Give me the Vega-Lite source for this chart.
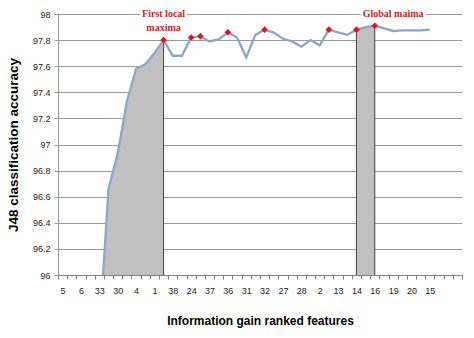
{
  "$schema": "https://vega.github.io/schema/vega-lite/v6.json",
  "width": 404,
  "height": 261,
  "autosize": "none",
  "padding": {"left": 58, "top": 14, "right": 12, "bottom": 63},
  "background": "white",
  "config": {"view": {"stroke": null}, "font": "Liberation Sans"},
  "data": {
    "values": [
      {"pos": 4, "acc": 95.55, "shade": 1},
      {"pos": 5, "acc": 96.66, "shade": 1},
      {"pos": 6, "acc": 96.93, "shade": 1},
      {"pos": 7, "acc": 97.33, "shade": 1},
      {"pos": 8, "acc": 97.58, "shade": 1},
      {"pos": 9, "acc": 97.615, "shade": 1},
      {"pos": 10, "acc": 97.7, "shade": 1},
      {"pos": 11, "acc": 97.8, "shade": 1, "peak": true, "edge": true},
      {"pos": 12, "acc": 97.68},
      {"pos": 13, "acc": 97.68},
      {"pos": 14, "acc": 97.82, "peak": true},
      {"pos": 15, "acc": 97.83, "peak": true},
      {"pos": 16, "acc": 97.79},
      {"pos": 17, "acc": 97.806},
      {"pos": 18, "acc": 97.86, "peak": true},
      {"pos": 19, "acc": 97.82},
      {"pos": 20, "acc": 97.668},
      {"pos": 21, "acc": 97.84},
      {"pos": 22, "acc": 97.88, "peak": true},
      {"pos": 23, "acc": 97.857},
      {"pos": 24, "acc": 97.81},
      {"pos": 25, "acc": 97.79},
      {"pos": 26, "acc": 97.75},
      {"pos": 27, "acc": 97.8},
      {"pos": 28, "acc": 97.76},
      {"pos": 29, "acc": 97.88, "peak": true},
      {"pos": 30, "acc": 97.86},
      {"pos": 31, "acc": 97.84},
      {"pos": 32, "acc": 97.88, "shade": 2, "peak": true, "edge": true},
      {"pos": 33, "acc": 97.9, "shade": 2},
      {"pos": 34, "acc": 97.91, "shade": 2, "peak": true, "edge": true},
      {"pos": 35, "acc": 97.89},
      {"pos": 36, "acc": 97.87},
      {"pos": 37, "acc": 97.875},
      {"pos": 38, "acc": 97.875},
      {"pos": 39, "acc": 97.875},
      {"pos": 40, "acc": 97.88}
    ]
  },
  "encoding": {
    "x": {
      "field": "pos",
      "type": "ordinal",
      "bandPosition": 0.5,
      "scale": {
        "type": "band",
        "domain": [0,1,2,3,4,5,6,7,8,9,10,11,12,13,14,15,16,17,18,19,20,21,22,23,24,25,26,27,28,29,30,31,32,33,34,35,36,37,38,39,40,41,42,43],
        "paddingInner": 0,
        "paddingOuter": 0
      },
      "axis": {
        "title": "Information gain ranked features",
        "titleFont": "Liberation Sans",
        "titleFontSize": 12,
        "titleFontWeight": "bold",
        "titleColor": "#000000",
        "titlePadding": 20,
        "labelExpr": "['5','','6','','33','','30','','4','','1','','38','','24','','37','','36','','31','','32','','27','','28','','2','','13','','14','','16','','19','','20','','15','','',''][datum.value]",
        "labelAngle": 0,
        "labelFont": "Liberation Sans",
        "labelFontSize": 9,
        "labelColor": "#222222",
        "labelPadding": 7,
        "labelOverlap": false,
        "tickBand": "extent",
        "tickSize": 4,
        "tickColor": "#808080",
        "domainColor": "#808080",
        "grid": false
      }
    },
    "y": {
      "field": "acc",
      "type": "quantitative",
      "scale": {"domain": [96, 98], "nice": false, "zero": false},
      "axis": {
        "title": "J48 classification accuracy",
        "titleFont": "Liberation Sans",
        "titleFontSize": 13.5,
        "titleFontWeight": "bold",
        "titleColor": "#000000",
        "titlePadding": 12,
        "values": [96, 96.2, 96.4, 96.6, 96.8, 97, 97.2, 97.4, 97.6, 97.8, 98],
        "format": ".1~f",
        "labelFont": "Liberation Sans",
        "labelFontSize": 9,
        "labelColor": "#222222",
        "labelPadding": 4,
        "tickSize": 4,
        "tickColor": "#999999",
        "domainColor": "#999999",
        "gridColor": "#9a9a9a"
      }
    }
  },
  "layer": [
    {
      "transform": [{"filter": "datum.shade != null"}],
      "mark": {"type": "area", "clip": true, "color": "#c0c0c0", "opacity": 1},
      "encoding": {"detail": {"field": "shade"}, "y2": {"datum": 96}}
    },
    {
      "transform": [{"filter": "datum.edge"}],
      "mark": {"type": "rule", "color": "#404040", "strokeWidth": 1},
      "encoding": {"y2": {"datum": 96}}
    },
    {
      "mark": {"type": "line", "clip": true, "color": "#8ea5c8", "strokeWidth": 2.3},
      "encoding": {}
    },
    {
      "transform": [{"filter": "datum.peak"}],
      "mark": {"type": "point", "shape": "diamond", "filled": true, "color": "#e8141c", "size": 45, "opacity": 1},
      "encoding": {}
    },
    {
      "data": {"values": [
        {"pos": 11, "acc": 98, "note": "First local\nmaxima"},
        {"pos": 36, "acc": 98, "note": "Global maima"}
      ]},
      "mark": {"type": "text", "font": "Liberation Serif", "fontWeight": "bold", "fontSize": 10, "lineBreak": "\n", "lineHeight": 13.5, "baseline": "top", "dy": -5, "align": "center", "stroke": "white", "strokeWidth": 5, "fill": "white"},
      "encoding": {"text": {"field": "note"}}
    },
    {
      "data": {"values": [
        {"pos": 11, "acc": 98, "note": "First local\nmaxima"},
        {"pos": 36, "acc": 98, "note": "Global maima"}
      ]},
      "mark": {"type": "text", "font": "Liberation Serif", "fontWeight": "bold", "fontSize": 10, "lineBreak": "\n", "lineHeight": 13.5, "baseline": "top", "dy": -5, "align": "center", "color": "#c62828"},
      "encoding": {"text": {"field": "note"}}
    }
  ]
}
